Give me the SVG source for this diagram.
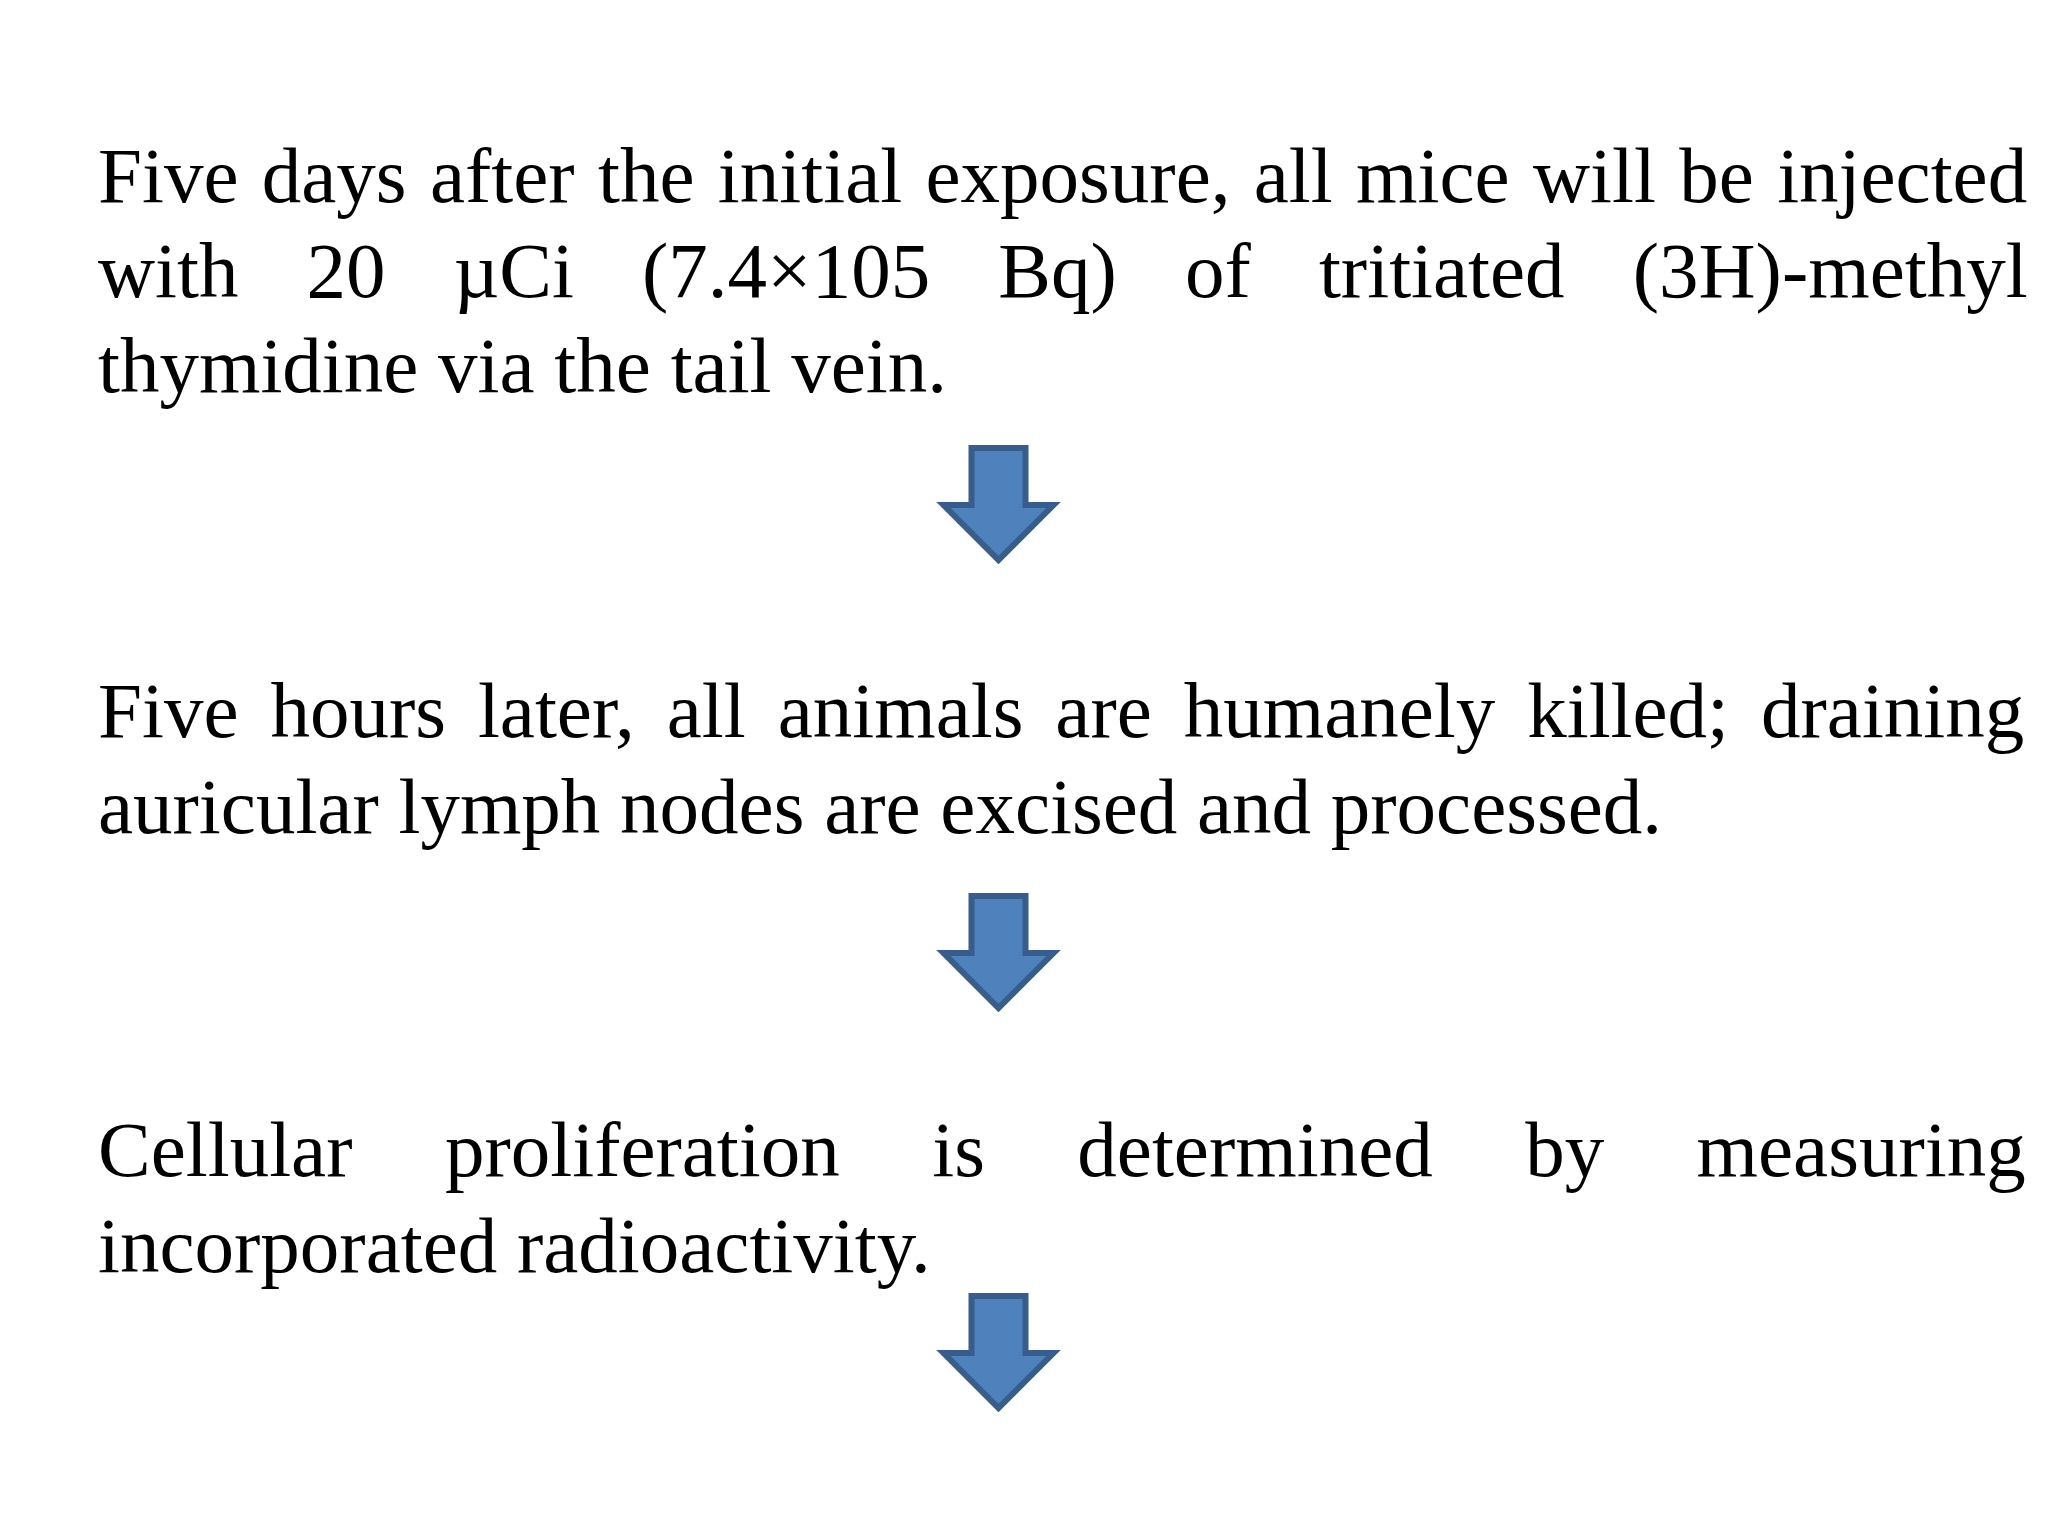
<svg xmlns="http://www.w3.org/2000/svg" xmlns:xlink="http://www.w3.org/1999/xlink" width="2048" height="1536" viewBox="0 0 2048 1536">
  <style>
    .t { font-family: "Liberation Serif", "Times New Roman", serif; font-size: 79px; fill: #000000; }
    .arrow { fill: #4F81BD; stroke: #385D8A; stroke-width: 6; stroke-linejoin: miter; }
  </style>
  <defs>
    <path id="downArrow" d="M-27,0 H27 V57 H55 L0,112 L-55,57 H-27 Z"/>
  </defs>
  <rect width="2048" height="1536" fill="#FFFFFF"/>

  <g id="step1">
    <text class="t" x="98" y="202" word-spacing="3.6">Five days after the initial exposure, all mice will be injected</text>
    <text class="t" x="98" y="297" word-spacing="48.4">with 20 µCi (7.4×105 Bq) of tritiated (3H)-methyl</text>
    <text class="t" x="98" y="392">thymidine via the tail vein.</text>
  </g>

  <g id="step2">
    <text class="t" x="98" y="737" word-spacing="12.2">Five hours later, all animals are humanely killed; draining</text>
    <text class="t" x="98" y="833">auricular lymph nodes are excised and processed.</text>
  </g>

  <g id="step3">
    <text class="t" x="98" y="1176" word-spacing="72.7">Cellular proliferation is determined by measuring</text>
    <text class="t" x="98" y="1272">incorporated radioactivity.</text>
  </g>

  <g id="connectors">
    <use xlink:href="#downArrow" href="#downArrow" class="arrow" x="998.5" y="448"/>
    <use xlink:href="#downArrow" href="#downArrow" class="arrow" x="998.5" y="896"/>
    <use xlink:href="#downArrow" href="#downArrow" class="arrow" x="998.5" y="1296"/>
  </g>
</svg>
